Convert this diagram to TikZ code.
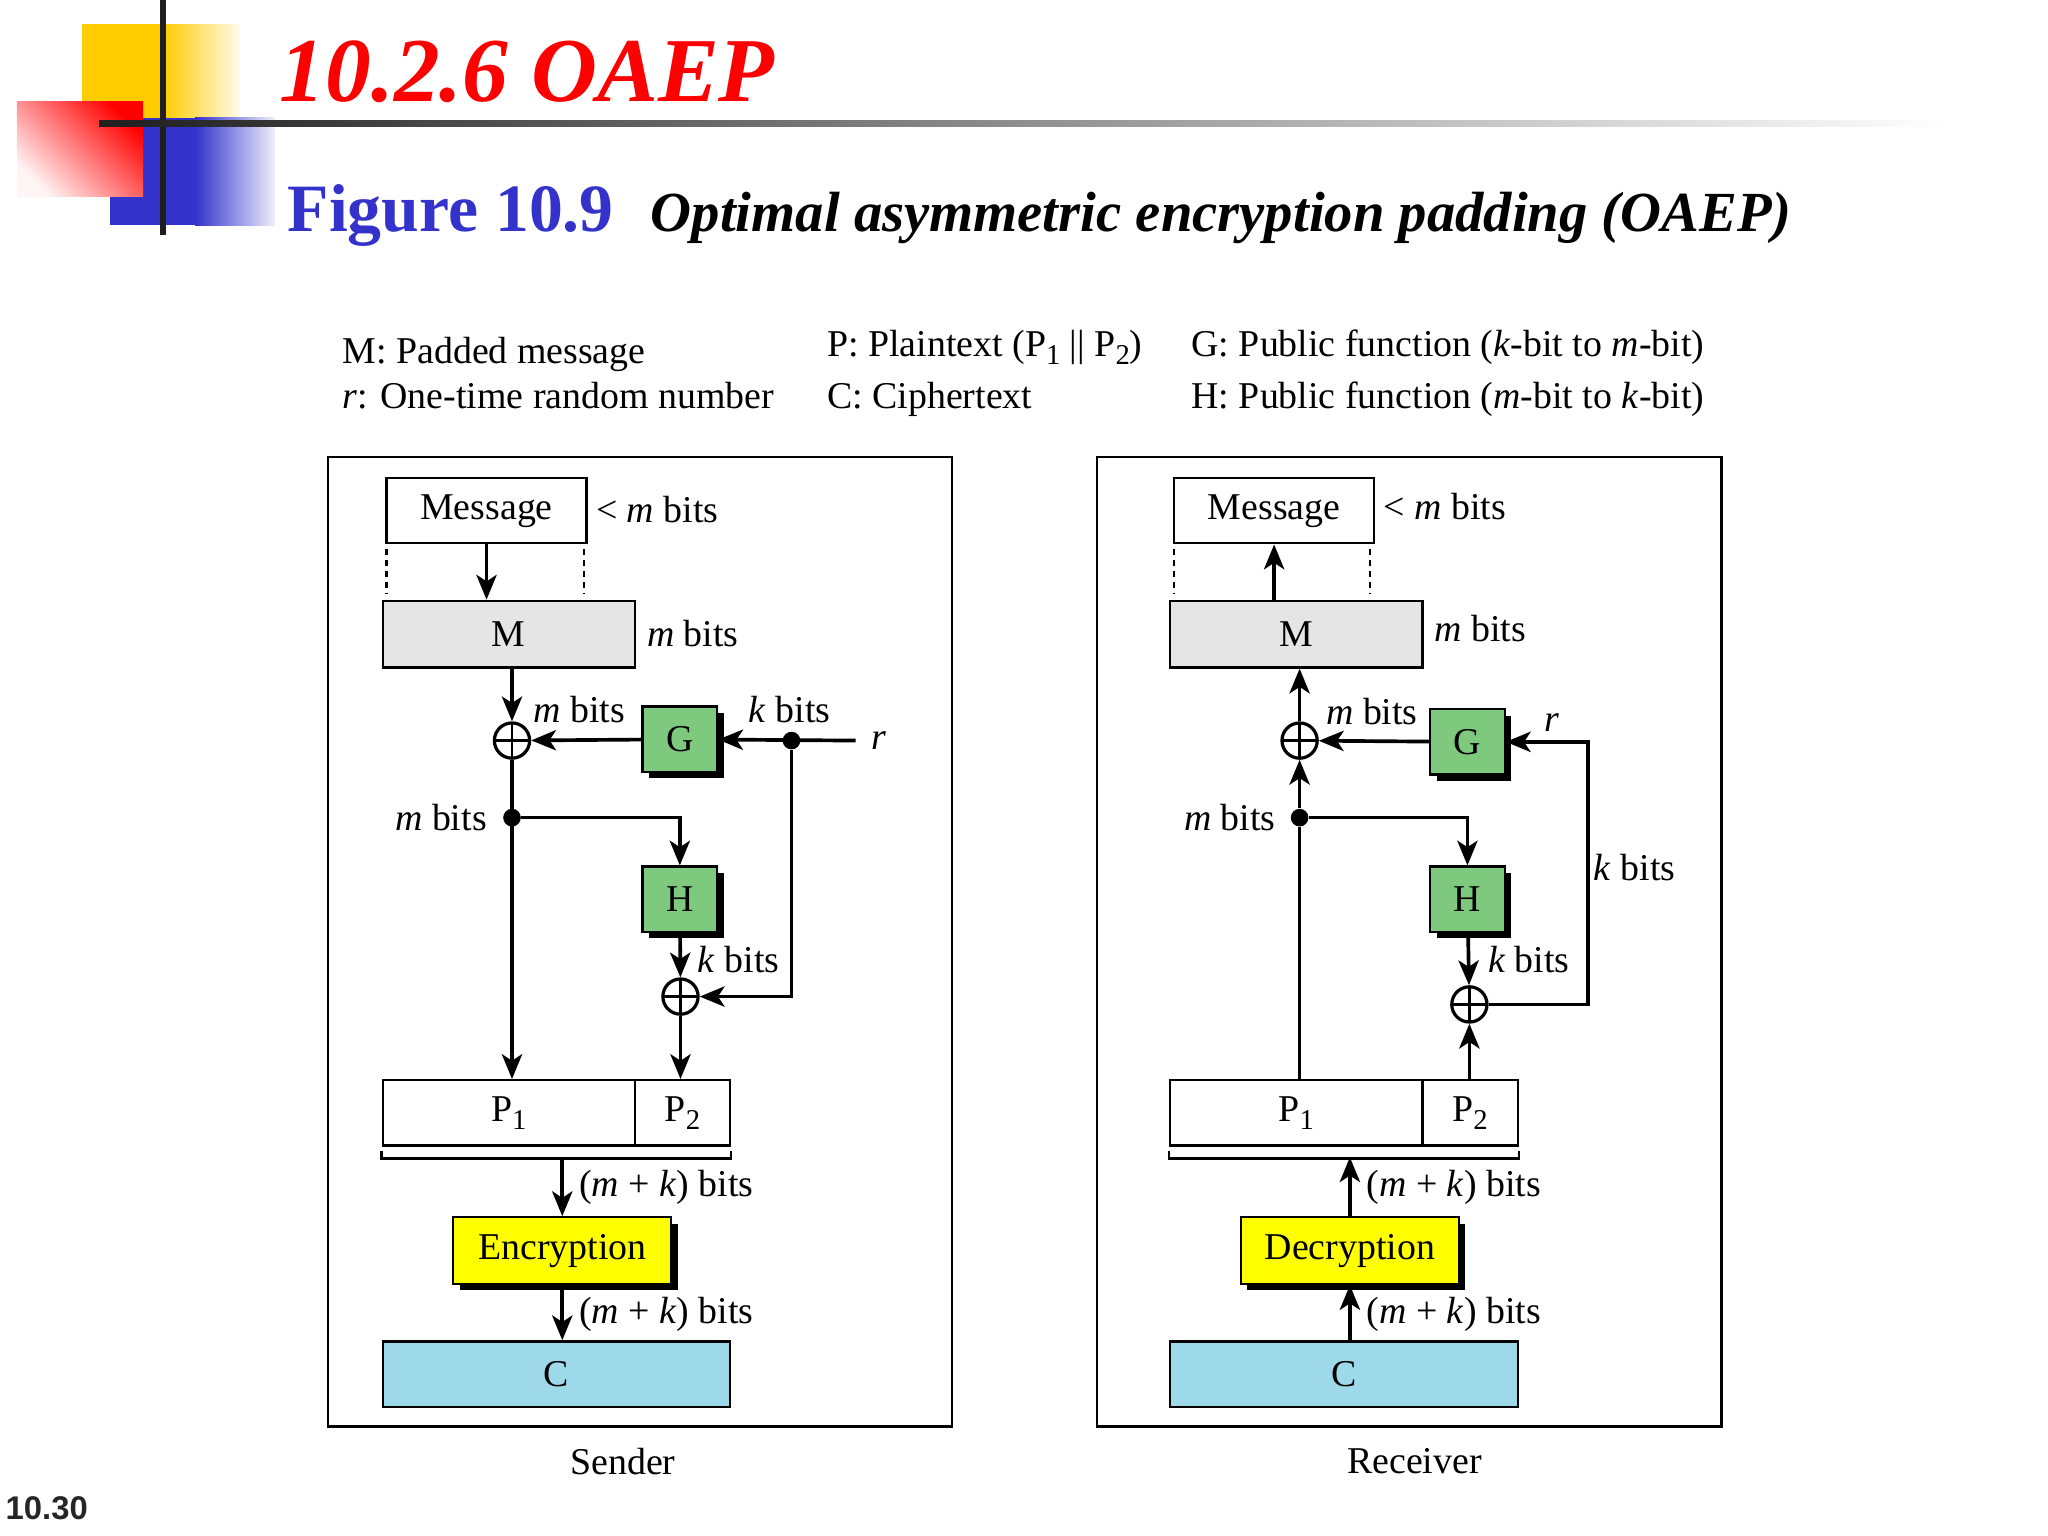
\documentclass[tikz,border=0pt]{standalone}
\usepackage{fontspec}
\setmainfont{Liberation Serif}
\newfontfamily\slidefont{Liberation Sans}
\usetikzlibrary{arrows.meta,shadows}

\definecolor{hashgreen}{RGB}{127,201,127}
\definecolor{padgray}{RGB}{229,229,229}
\definecolor{cipherblue}{RGB}{157,217,232}
\definecolor{cryptyellow}{RGB}{255,255,0}
\definecolor{slideblue}{RGB}{51,51,204}
\definecolor{slidegold}{RGB}{255,204,0}

\newcommand{\lowidx}[1]{\raisebox{-3.4pt}{\fontsize{12.5}{12.5}\selectfont #1}}

\tikzset{
  plainbox/.style={draw, line width=1pt, inner sep=0pt, minimum height=1cm},
  padbox/.style={plainbox, fill=padgray, minimum width=3.86cm, minimum height=1.02cm},
  funbox/.style={plainbox, fill=hashgreen, minimum width=1.14cm,
    drop shadow={shadow xshift=0.1cm, shadow yshift=-0.1cm, opacity=1, fill=black}},
  cryptbox/.style={funbox, fill=cryptyellow, minimum width=3.34cm, minimum height=1.02cm},
  cipherbox/.style={plainbox, fill=cipherblue, minimum width=5.32cm},
  xorop/.style={circle, draw, line width=1.4pt, fill=white, minimum size=0.54cm, inner sep=0pt,
    path picture={\draw[line width=1.1pt] (path picture bounding box.north) -- (path picture bounding box.south)
      (path picture bounding box.west) -- (path picture bounding box.east);}},
  joint/.style={circle, fill, minimum size=0.27cm, inner sep=0pt},
  wire/.style={line width=1.6pt},
  arr/.style={wire, -{Stealth[length=0.38cm, width=0.31cm, inset=0.1cm]}},
  lbl/.style={inner sep=0pt, anchor=west},
  panel/.style={line width=1.1pt},
  guide/.style={line width=1pt, dash pattern=on 0.1cm off 0.07cm}
}

\begin{document}
\begin{tikzpicture}[x=0.02cm, y=-0.02cm, font=\fontsize{16.5}{19}\selectfont]
  \useasboundingbox (0,0) rectangle (1568,1176);
  % slide corner
  \fill[slidegold] (62.8,18.4) rectangle (124.8,90.3);
  \shade[left color=slidegold, right color=slidegold!8] (124.8,18.4) rectangle (183.7,90.3);
  \fill[slideblue] (84.2,90.3) rectangle (149.3,172.3);
  \shade[left color=slideblue, right color=slideblue!8] (149.3,90.3) rectangle (210.5,172.3);
  \shade[top color=red, bottom color=red!4, shading angle=-45] (13,78) rectangle (109.5,150.8);
  \fill[black!88] (122.3,0) rectangle (127.3,180);
  \shade[left color=black!88, middle color=black!45, right color=white] (75.8,92) rectangle (1490,96.6);

  \node[anchor=base west, inner sep=0pt, text=red, font=\fontsize{39.8}{44}\selectfont\bfseries\itshape] (ttl) at (214,78) {10.2.6 OAEP};
  \node[anchor=base west, inner sep=0pt, text=slideblue, font=\fontsize{29.5}{33}\selectfont\bfseries] (fig) at (220,177) {Figure 10.9};
  \node[anchor=base west, inner sep=0pt, font=\fontsize{24.7}{28}\selectfont\bfseries\itshape] (cap) at (498,177) {Optimal asymmetric encryption padding (OAEP)};

  % legend
  \node[anchor=base west, inner sep=0pt] (leg1) at (262,278) {M: Padded message};
  \node[anchor=base west, inner sep=0pt] (leg2) at (262,313) {\textit{r}: One-time random number};
  \node[anchor=base west, inner sep=0pt] (leg3) at (633,273) {P: Plaintext (P\lowidx{1} || P\lowidx{2})};
  \node[anchor=base west, inner sep=0pt] (leg4) at (633,313) {C: Ciphertext};
  \node[anchor=base west, inner sep=0pt] (leg5) at (912,273) {G: Public function (\textit{k}-bit to \textit{m}-bit)};
  \node[anchor=base west, inner sep=0pt] (leg6) at (912,313) {H: Public function (\textit{m}-bit to \textit{k}-bit)};

  \draw[panel] (251,350) rectangle (729,1092);
  \draw[panel] (840,350) rectangle (1318,1092);
  \node (snd) at (477,1119) {Sender};
  \node (rcv) at (1083,1119) {Receiver};

  % sender
  \node[plainbox, minimum width=3.06cm] (smsg) at (372.5,391) {Message};
  \node[padbox] (sM) at (389.5,485.5) {M};
  \node[xorop] (sxa) at (392,567) {};
  \node[funbox] (sG) at (520.5,566) {G};
  \node[joint] (sd1) at (606,567) {};
  \coordinate (sr) at (655,567);
  \node[joint] (sd2) at (392,626) {};
  \node[funbox] (sH) at (520.5,688.5) {H};
  \node[xorop] (sxb) at (521,763) {};
  \node[plainbox, minimum width=3.86cm] (sP1) at (389.5,852) {P\lowidx{1}};
  \node[plainbox, minimum width=1.46cm] (sP2) at (522.5,852) {P\lowidx{2}};
  \coordinate (sbr) at (430.5,886);
  \node[cryptbox] (sE) at (430.5,957.5) {Encryption};
  \node[cipherbox] (sC) at (426,1052) {C};

  \draw[guide] (296,420) -- (296,455) (447,420) -- (447,455);
  \draw[arr] (smsg) -- (smsg |- sM.north);
  \draw[arr] (sM.south -| sxa) -- (sxa);
  \draw[arr] (sG) -- (sxa);
  \draw[arr] (sr) -- (sG);
  \draw[arr] (sd1) |- (sxb);
  \draw[arr] (sxa) -- (sxa |- sP1.north);
  \draw[arr] (sd2) -| (sH);
  \draw[arr] (sH) -- (sxb);
  \draw[arr] (sxb) -- (sxb |- sP2.north);
  \draw[line width=1pt] ([yshift=-0.06cm]sP1.south west) |- ([yshift=-0.18cm]sP2.south east) -- ([yshift=-0.06cm]sP2.south east);
  \draw[arr] (sbr) -- (sE);
  \draw[arr] (sE) -- (sE |- sC.north);

  \node[lbl] (sl1) at (456,390) {< \textit{m} bits};
  \node[lbl] (sl2) at (495,485) {\textit{m} bits};
  \node[lbl] (sl3) at (408,543) {\textit{m} bits};
  \node[lbl] (sl4) at (573,543) {\textit{k} bits};
  \node (sl5) at (673,567) {\textit{r}};
  \node[lbl, anchor=east] (sl6) at (373,626) {\textit{m} bits};
  \node[lbl] (sl7) at (534,735) {\textit{k} bits};
  \node[lbl] (sl8) at (443,909) {(\textit{m} + \textit{k}) bits};
  \node[lbl] (sl9) at (443,1006) {(\textit{m} + \textit{k}) bits};

  % receiver
  \node[plainbox, minimum width=3.06cm] (rmsg) at (975.5,391) {Message};
  \node[padbox] (rM) at (992.5,485.5) {M};
  \node[xorop] (rxa) at (995,567) {};
  \node[funbox] (rG) at (1123.5,568) {G};
  \node[joint] (rd2) at (995,626) {};
  \node[funbox] (rH) at (1123.5,688.5) {H};
  \node[xorop] (rxb) at (1125,769) {};
  \coordinate (rturn) at (1216,669);
  \node[plainbox, minimum width=3.86cm] (rP1) at (992.5,852) {P\lowidx{1}};
  \node[plainbox, minimum width=1.46cm] (rP2) at (1125.5,852) {P\lowidx{2}};
  \coordinate (rbr) at (1033.5,886);
  \node[cryptbox] (rD) at (1033.5,957.5) {Decryption};
  \node[cipherbox] (rC) at (1029,1052) {C};

  \draw[guide] (899,420) -- (899,455) (1049,420) -- (1049,455);
  \draw[arr] (rM.north -| rmsg) -- (rmsg);
  \draw[arr] (rxa) -- (rxa |- rM.south);
  \draw[arr] (rG) -- (rxa);
  \draw[arr] (rd2) -- (rxa);
  \draw[wire] (rP1.north -| rd2) -- (rd2);
  \draw[arr] (rd2) -| (rH);
  \draw[arr] (rH) -- (rxb);
  \draw[arr] (rP2.north -| rxb) -- (rxb);
  \draw[arr] (rxb) -| (rturn) |- (rG);
  \draw[line width=1pt] ([yshift=-0.06cm]rP1.south west) |- ([yshift=-0.18cm]rP2.south east) -- ([yshift=-0.06cm]rP2.south east);
  \draw[arr] (rD) -- (rbr);
  \draw[arr] (rC.north -| rD) -- (rD);

  \node[lbl] (rl1) at (1059,388) {< \textit{m} bits};
  \node[lbl] (rl2) at (1098,481) {\textit{m} bits};
  \node[lbl] (rl3) at (1015,545) {\textit{m} bits};
  \node (rl4) at (1188,553) {\textit{r}};
  \node[lbl] (rl5) at (1220,664) {\textit{k} bits};
  \node[lbl, anchor=east] (rl6) at (977,626) {\textit{m} bits};
  \node[lbl] (rl7) at (1139,735) {\textit{k} bits};
  \node[lbl] (rl8) at (1046,909) {(\textit{m} + \textit{k}) bits};
  \node[lbl] (rl9) at (1046,1006) {(\textit{m} + \textit{k}) bits};

  \node[anchor=base west, inner sep=0pt, text=black!85, font=\slidefont\bfseries\fontsize{14.3}{16}\selectfont] (pg) at (4,1163) {10.30};
\end{tikzpicture}
\end{document}
